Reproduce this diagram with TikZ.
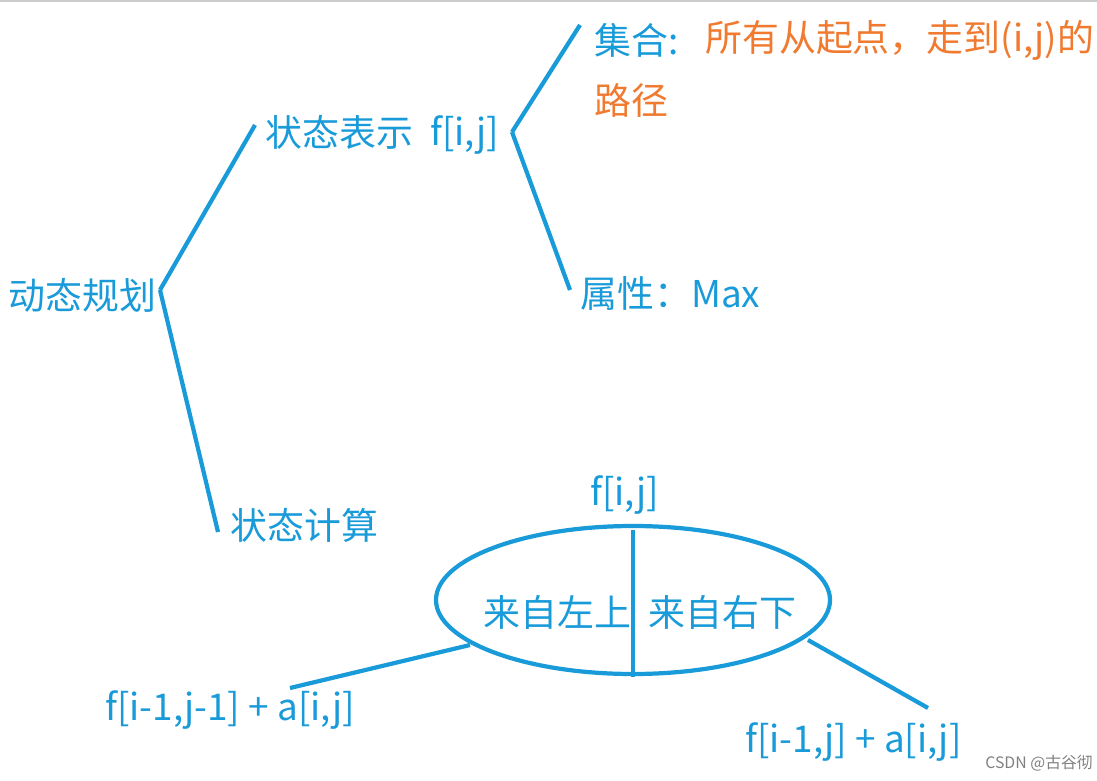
\documentclass[tikz,border=0pt]{standalone}
\usepackage{fontspec}
\setmainfont{Noto Sans CJK SC}
\definecolor{bl}{HTML}{1A9BD9}
\definecolor{orn}{HTML}{F07A30}
\begin{document}
\begin{tikzpicture}[x=0.02cm,y=-0.02cm,
  t/.style={text=bl,font=\fontsize{21pt}{24pt}\selectfont,inner sep=0pt,anchor=west},
  o/.style={t,text=orn},
  ln/.style={draw=bl,line width=2.4pt}]
\useasboundingbox (0,0) rectangle (1097,780);
\draw[gray!40,line width=1pt] (0,1) -- (1097,1);
\node[t] (dp) at (8,295) {动态规划};
\node[t] (bs) at (265,132) {状态表示};
\node[t] (f1) at (430,135) {f[i,j]};
\node[t] (jh) at (594,40) {集合:};
\node[o] (jh2) at (705,40) {所有从起点，走到(i,j)的};
\node[o] (lj) at (594,100) {路径};
\node[t] (sx) at (580,293) {属性：Max};
\node[t] (js) at (230,525) {状态计算};
\node[t] (f2) at (590,495) {f[i,j]};
\node[t] (l) at (483,612) {来自左上};
\node[t] (r) at (648,612) {来自右下};
\node[t] (e1) at (105,710) {f[i-1,j-1] + a[i,j]};
\node[t] (e2) at (745,742) {f[i-1,j] + a[i,j]};
\node[anchor=west,text=gray,font=\fontsize{9pt}{10pt}\selectfont,inner sep=0pt] (cs) at (985,763) {CSDN @古谷彻};
\coordinate (a0) at (160,290);
\draw[ln] (a0) -- (255,125);
\draw[ln] (a0) -- (218,532);
\coordinate (b0) at (512,132);
\draw[ln] (b0) -- (580,25);
\draw[ln] (b0) -- (570,290);
\draw[ln] (633,600) ellipse [x radius=197,y radius=74];
\draw[ln] (633,530) -- (633,677);
\draw[ln] (470,645) -- (290,688);
\draw[ln] (808,640) -- (928,708);
\end{tikzpicture}
\end{document}
